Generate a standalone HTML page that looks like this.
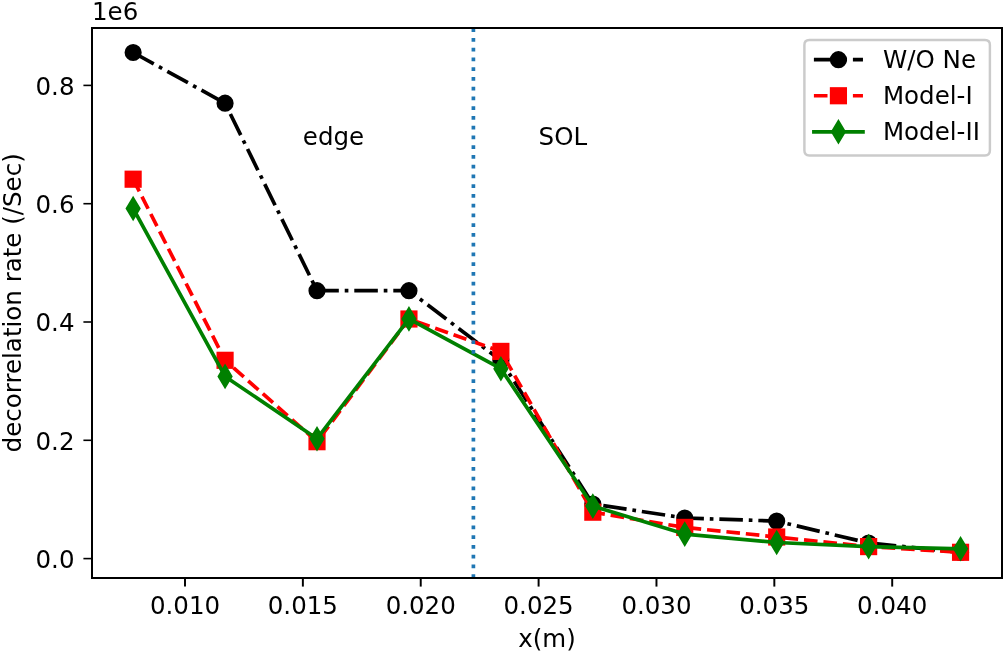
<!DOCTYPE html>
<html><head><meta charset="utf-8"><title>decorrelation rate</title>
<style>html,body{margin:0;padding:0;background:#fff}body{width:1005px;height:653px;overflow:hidden}</style></head>
<body>
<svg width="1005" height="653" viewBox="0 0 1005 653" style="display:block">
<rect width="1005" height="653" fill="#fff"/>
<g font-family='"DejaVu Sans", "Liberation Sans", sans-serif' font-size="24.53px" fill="#000">
<line x1="185.00" y1="578.00" x2="185.00" y2="586.59" stroke="#000" stroke-width="1.96"/>
<text x="185.00" y="614.3" text-anchor="middle">0.010</text>
<line x1="302.87" y1="578.00" x2="302.87" y2="586.59" stroke="#000" stroke-width="1.96"/>
<text x="302.87" y="614.3" text-anchor="middle">0.015</text>
<line x1="420.73" y1="578.00" x2="420.73" y2="586.59" stroke="#000" stroke-width="1.96"/>
<text x="420.73" y="614.3" text-anchor="middle">0.020</text>
<line x1="538.60" y1="578.00" x2="538.60" y2="586.59" stroke="#000" stroke-width="1.96"/>
<text x="538.60" y="614.3" text-anchor="middle">0.025</text>
<line x1="656.47" y1="578.00" x2="656.47" y2="586.59" stroke="#000" stroke-width="1.96"/>
<text x="656.47" y="614.3" text-anchor="middle">0.030</text>
<line x1="774.33" y1="578.00" x2="774.33" y2="586.59" stroke="#000" stroke-width="1.96"/>
<text x="774.33" y="614.3" text-anchor="middle">0.035</text>
<line x1="892.20" y1="578.00" x2="892.20" y2="586.59" stroke="#000" stroke-width="1.96"/>
<text x="892.20" y="614.3" text-anchor="middle">0.040</text>
<line x1="92.00" y1="558.60" x2="83.41" y2="558.60" stroke="#000" stroke-width="1.6"/>
<text x="74.5" y="568.00" text-anchor="end">0.0</text>
<line x1="92.00" y1="440.30" x2="83.41" y2="440.30" stroke="#000" stroke-width="1.6"/>
<text x="74.5" y="449.70" text-anchor="end">0.2</text>
<line x1="92.00" y1="322.00" x2="83.41" y2="322.00" stroke="#000" stroke-width="1.6"/>
<text x="74.5" y="331.40" text-anchor="end">0.4</text>
<line x1="92.00" y1="203.70" x2="83.41" y2="203.70" stroke="#000" stroke-width="1.6"/>
<text x="74.5" y="213.10" text-anchor="end">0.6</text>
<line x1="92.00" y1="85.40" x2="83.41" y2="85.40" stroke="#000" stroke-width="1.6"/>
<text x="74.5" y="94.80" text-anchor="end">0.8</text>
<polyline points="133.14,52.50 225.07,103.20 317.01,290.70 408.95,290.70 500.88,360.50 592.82,504.00 684.75,518.00 776.69,521.10 868.63,543.00 960.56,552.50" fill="none" stroke="#000" stroke-width="3.68" stroke-dasharray="23.55 5.89 3.68 5.89" stroke-linejoin="round"/>
<circle cx="133.14" cy="52.50" r="7.36" fill="#000" stroke="#000" stroke-width="2.45"/>
<circle cx="225.07" cy="103.20" r="7.36" fill="#000" stroke="#000" stroke-width="2.45"/>
<circle cx="317.01" cy="290.70" r="7.36" fill="#000" stroke="#000" stroke-width="2.45"/>
<circle cx="408.95" cy="290.70" r="7.36" fill="#000" stroke="#000" stroke-width="2.45"/>
<circle cx="500.88" cy="360.50" r="7.36" fill="#000" stroke="#000" stroke-width="2.45"/>
<circle cx="592.82" cy="504.00" r="7.36" fill="#000" stroke="#000" stroke-width="2.45"/>
<circle cx="684.75" cy="518.00" r="7.36" fill="#000" stroke="#000" stroke-width="2.45"/>
<circle cx="776.69" cy="521.10" r="7.36" fill="#000" stroke="#000" stroke-width="2.45"/>
<circle cx="868.63" cy="543.00" r="7.36" fill="#000" stroke="#000" stroke-width="2.45"/>
<circle cx="960.56" cy="552.50" r="7.36" fill="#000" stroke="#000" stroke-width="2.45"/>
<polyline points="133.14,179.20 225.07,360.30 317.01,441.70 408.95,319.00 500.88,351.40 592.82,512.20 684.75,527.40 776.69,537.00 868.63,546.60 960.56,552.30" fill="none" stroke="#f00" stroke-width="3.68" stroke-dasharray="13.61 5.89" stroke-linejoin="round"/>
<rect x="125.78" y="171.84" width="14.72" height="14.72" fill="#f00" stroke="#f00" stroke-width="2.45"/>
<rect x="217.72" y="352.94" width="14.72" height="14.72" fill="#f00" stroke="#f00" stroke-width="2.45"/>
<rect x="309.65" y="434.34" width="14.72" height="14.72" fill="#f00" stroke="#f00" stroke-width="2.45"/>
<rect x="401.59" y="311.64" width="14.72" height="14.72" fill="#f00" stroke="#f00" stroke-width="2.45"/>
<rect x="493.52" y="344.04" width="14.72" height="14.72" fill="#f00" stroke="#f00" stroke-width="2.45"/>
<rect x="585.46" y="504.84" width="14.72" height="14.72" fill="#f00" stroke="#f00" stroke-width="2.45"/>
<rect x="677.40" y="520.04" width="14.72" height="14.72" fill="#f00" stroke="#f00" stroke-width="2.45"/>
<rect x="769.33" y="529.64" width="14.72" height="14.72" fill="#f00" stroke="#f00" stroke-width="2.45"/>
<rect x="861.27" y="539.24" width="14.72" height="14.72" fill="#f00" stroke="#f00" stroke-width="2.45"/>
<rect x="953.20" y="544.94" width="14.72" height="14.72" fill="#f00" stroke="#f00" stroke-width="2.45"/>
<polyline points="133.14,208.50 225.07,376.40 317.01,438.70 408.95,318.90 500.88,368.70 592.82,506.10 684.75,534.10 776.69,542.50 868.63,546.60 960.56,548.80" fill="none" stroke="#008000" stroke-width="3.68" stroke-linejoin="round" stroke-linecap="square"/>
<path d="M133.14,198.09 L139.38,208.50 L133.14,218.91 L126.89,208.50 Z" fill="#008000" stroke="#008000" stroke-width="2.45" stroke-linejoin="miter"/>
<path d="M225.07,365.99 L231.32,376.40 L225.07,386.81 L218.83,376.40 Z" fill="#008000" stroke="#008000" stroke-width="2.45" stroke-linejoin="miter"/>
<path d="M317.01,428.29 L323.25,438.70 L317.01,449.11 L310.77,438.70 Z" fill="#008000" stroke="#008000" stroke-width="2.45" stroke-linejoin="miter"/>
<path d="M408.95,308.49 L415.19,318.90 L408.95,329.31 L402.70,318.90 Z" fill="#008000" stroke="#008000" stroke-width="2.45" stroke-linejoin="miter"/>
<path d="M500.88,358.29 L507.13,368.70 L500.88,379.11 L494.64,368.70 Z" fill="#008000" stroke="#008000" stroke-width="2.45" stroke-linejoin="miter"/>
<path d="M592.82,495.69 L599.06,506.10 L592.82,516.51 L586.57,506.10 Z" fill="#008000" stroke="#008000" stroke-width="2.45" stroke-linejoin="miter"/>
<path d="M684.75,523.69 L691.00,534.10 L684.75,544.51 L678.51,534.10 Z" fill="#008000" stroke="#008000" stroke-width="2.45" stroke-linejoin="miter"/>
<path d="M776.69,532.09 L782.93,542.50 L776.69,552.91 L770.45,542.50 Z" fill="#008000" stroke="#008000" stroke-width="2.45" stroke-linejoin="miter"/>
<path d="M868.63,536.19 L874.87,546.60 L868.63,557.01 L862.38,546.60 Z" fill="#008000" stroke="#008000" stroke-width="2.45" stroke-linejoin="miter"/>
<path d="M960.56,538.39 L966.81,548.80 L960.56,559.21 L954.32,548.80 Z" fill="#008000" stroke="#008000" stroke-width="2.45" stroke-linejoin="miter"/>
<line x1="473.4" y1="578.00" x2="473.4" y2="28.00" stroke="#1f77b4" stroke-width="3.68" stroke-dasharray="3.68 6.07"/>
<rect x="92.00" y="28.00" width="910.00" height="550.00" fill="none" stroke="#000" stroke-width="2"/>
<text x="302.87" y="144.8">edge</text>
<text x="538.60" y="144.8">SOL</text>
<text x="92.00" y="20.4">1e6</text>
<text x="547.00" y="646.9" text-anchor="middle">x(m)</text>
<text transform="translate(21.1,302.80) rotate(-90)" text-anchor="middle">decorrelation rate (/Sec)</text>
<path d="M809.31,40.0 L984.99,40.0 Q989.9,40.0 989.9,44.91 L989.9,150.49 Q989.9,155.4 984.99,155.4 L809.31,155.4 Q804.4,155.4 804.4,150.49 L804.4,44.91 Q804.4,40.0 809.31,40.0 Z" fill="#fff" stroke="#cbcbcb" stroke-width="2.45"/>
<line x1="813.9" y1="59.7" x2="862.96" y2="59.7" stroke="#000" stroke-width="3.68" stroke-dasharray="23.55 5.89 3.68 5.89"/>
<circle cx="838.43" cy="59.70" r="7.36" fill="#000" stroke="#000" stroke-width="2.45"/>
<line x1="813.9" y1="95.75" x2="862.96" y2="95.75" stroke="#f00" stroke-width="3.68" stroke-dasharray="13.61 5.89"/>
<rect x="831.07" y="88.39" width="14.72" height="14.72" fill="#f00" stroke="#f00" stroke-width="2.45"/>
<line x1="813.9" y1="131.8" x2="862.96" y2="131.8" stroke="#008000" stroke-width="3.68" stroke-linecap="square"/>
<path d="M838.43,121.39 L844.67,131.80 L838.43,142.21 L832.19,131.80 Z" fill="#008000" stroke="#008000" stroke-width="2.45" stroke-linejoin="miter"/>
<text x="882.98" y="68.00">W/O Ne</text>
<text x="882.98" y="104.05">Model-I</text>
<text x="882.98" y="140.10">Model-II</text>
</g></svg>
</body></html>
